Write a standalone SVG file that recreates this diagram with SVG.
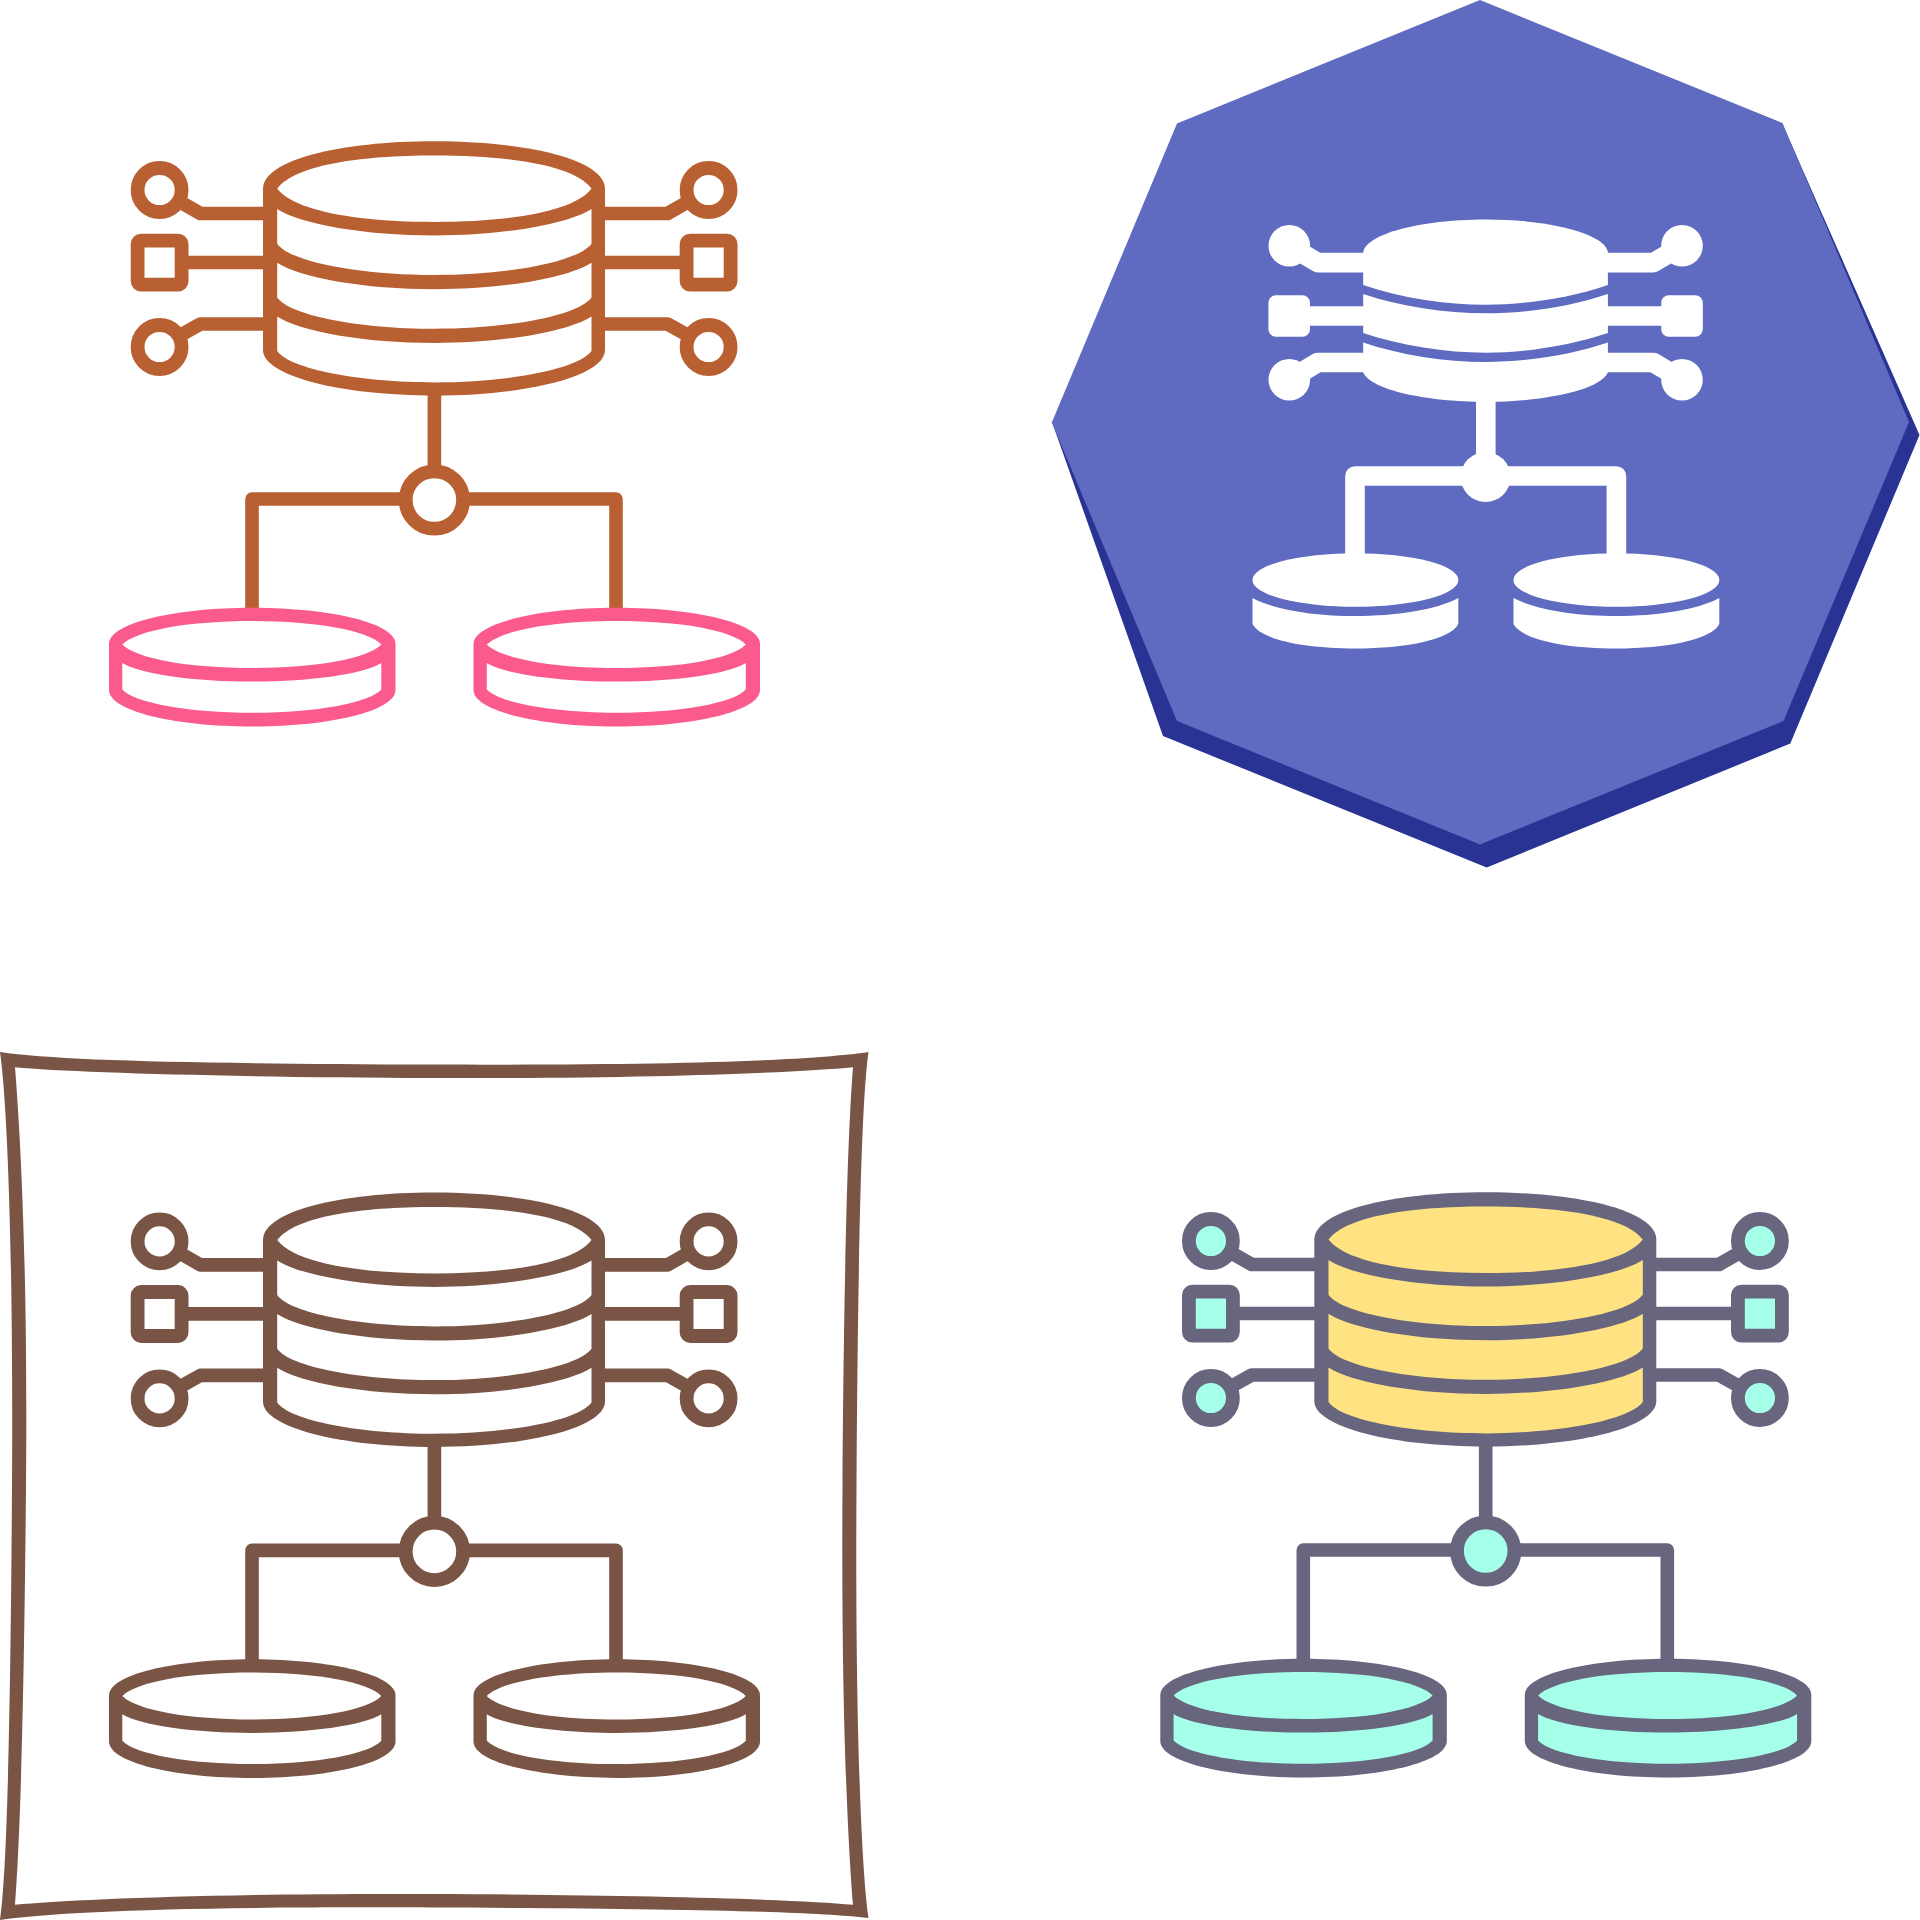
<svg xmlns="http://www.w3.org/2000/svg" xmlns:xlink="http://www.w3.org/1999/xlink" width="1920" height="1920" viewBox="0 0 1920 1920">
<style>
.wire{fill:none;stroke-width:13.6;stroke-linejoin:round}
.ring{stroke-width:13.8;stroke-linejoin:round}
.i1 .wire,.i1 .ring{stroke:#B96033}.i1 .ring,.i1 .panel,.i3 .ring,.i3 .panel{fill:#fff}
.i1 .ink{fill:#B96033}.i1 .pink{fill:#FB5A8D}
.i3 .wire,.i3 .ring{stroke:#7A5546}.i3 .ink{fill:#7A5546}
.i4 .wire,.i4 .ring{stroke:#68657E}.i4 .ink{fill:#68657E}
.i4 .ring,.i4 .panel{fill:#A6FFE9}.i4 .yel{fill:#FFE383}
.i2 .wire{stroke:#fff;stroke-width:19.6;fill:none;stroke-linejoin:round}
.i2 .solid{fill:#fff}
</style>
<defs>
<path id="dbSil" d="M263 188.6C263 160 340 141.2 434.4 141.2S605 160 605 188.6V350C605 376 528 395.5 434.4 395.5S263 376 263 350Z"/>
<g id="dbPanels">
<path d="M277.2 188.6C295 165 360 155.5 434.4 155.5S574 165 591.5 188.6C574 212 508 222 434.4 222S295 212 277.2 188.6Z"/>
<path id="band" d="M277.2 209C300 224 365 235.5 434.4 235.5S568 224 591.5 209V243.7C578 262 508 275 434.4 275S290 262 277.2 243.7Z"/>
<use href="#band" y="53.7"/>
<use href="#band" y="107.4"/>
</g>
<path id="smSil" d="M109 644C109 623 175 607.8 252.3 607.8S395.5 623 395.5 644V690C395.5 711 330 726.5 252.3 726.5S109 711 109 690Z"/>
<g id="smPanels">
<path d="M122.3 644.5C137 630 190 621 252.3 621S367 630 381.3 644.5C367 659 315 668 252.3 668S137 659 122.3 644.5Z"/>
<path d="M122.3 662.9C140 674 195 681.6 252.3 681.6S364 674 381.3 662.9V689.4C369 703 315 712.7 252.3 712.7S135 703 122.3 689.4Z"/>
</g>
<path id="wires" d="M270 213.5H200.4L159.4 190M270 262.5H159.4M270 324H200.4L159.4 347M598 213.5H667.6L708.6 190M598 262.5H708.6M598 324H667.6L708.6 347M434.4 388V499M252 610V499H616V610"/>
</defs>

<g id="icon1" class="i1">
<g id="i1-connectors"><use class="wire" href="#wires"/></g>
<g id="i1-db"><use class="ink" href="#dbSil"/><use class="panel" href="#dbPanels"/></g>
<g id="i1-n1"><circle class="ring" cx="159.6" cy="190" r="22"/></g>
<g id="i1-n2"><rect class="ring" x="137.6" y="240.6" width="44" height="44" rx="3.5"/></g>
<g id="i1-n3"><circle class="ring" cx="159.6" cy="347" r="22"/></g>
<g id="i1-n4"><circle class="ring" cx="708.6" cy="190" r="22"/></g>
<g id="i1-n5"><rect class="ring" x="686.6" y="240.6" width="44" height="44" rx="3.5"/></g>
<g id="i1-n6"><circle class="ring" cx="708.6" cy="347" r="22"/></g>
<g id="i1-hub"><circle class="ring" cx="434.4" cy="500" r="28.7"/></g>
<g id="i1-left"><use class="pink" href="#smSil"/><use class="panel" href="#smPanels"/></g>
<g id="i1-right" transform="translate(364.5 0)"><use class="pink" href="#smSil"/><use class="panel" href="#smPanels"/></g>
</g>

<g id="icon2" class="i2">
<polygon id="octagon-shadow" fill="#293393" points="1782,123 1919.5,435 1790.3,743.6 1486.7,867.5 1163,736 1052,422"/>
<polygon id="octagon" fill="#5E6BC0" points="1480,0 1782.4,123 1909,422 1783.5,721 1480,844.5 1177,721 1051.8,422.5 1177,123.5"/>
<g id="i2-connectors">
<path class="wire" d="M1370 262.6H1317.8L1289.2 245.8M1370 316H1289.2M1370 362.5H1317.8L1289.2 379.7M1600 262.6H1653.4L1682 245.8M1600 316H1682M1600 362.5H1653.4L1682 379.7M1485.8 395V477M1355 560V476H1616.4V560"/>
</g>
<g id="i2-db" class="solid">
<path d="M1363.2 252C1366 234 1420 219.4 1485.6 219.4S1605 234 1607.9 252V285C1570 298 1525 304.7 1485.6 304.7S1400 298 1363.2 285Z"/>
<path d="M1363.2 294C1400 306.5 1445 313.3 1485.6 313.3S1571 306.5 1607.9 294V333C1571 345.5 1525 352.7 1485.6 352.7S1400 345.5 1363.2 333Z"/>
<path d="M1363.2 342.5C1400 355 1445 362 1485.6 362S1571 355 1607.9 342.5V372.5C1600 390 1545 401.8 1485.6 401.8S1371 390 1363.2 372.5Z"/>
</g>
<g id="i2-n1" class="solid"><circle cx="1289.3" cy="245.8" r="20.8"/></g>
<g id="i2-n2" class="solid"><rect x="1268.4" y="295.2" width="41.6" height="41.6" rx="7.5"/></g>
<g id="i2-n3" class="solid"><circle cx="1289.3" cy="379.7" r="20.8"/></g>
<g id="i2-n4" class="solid"><circle cx="1682" cy="245.8" r="20.8"/></g>
<g id="i2-n5" class="solid"><rect x="1661.2" y="295.2" width="41.6" height="41.6" rx="7.5"/></g>
<g id="i2-n6" class="solid"><circle cx="1682" cy="379.7" r="20.8"/></g>
<g id="i2-hub" class="solid"><circle cx="1485.6" cy="477" r="25"/></g>
<g id="i2-left" class="solid">
<ellipse cx="1355.4" cy="580" rx="103" ry="26.8"/>
<path d="M1252.5 598C1275 610 1315 616 1355.4 616S1436 610 1458.3 598V624C1450 640 1405 648.5 1355.4 648.5S1261 640 1252.5 624Z"/>
</g>
<g id="i2-right" class="solid" transform="translate(261 0)">
<ellipse cx="1355.4" cy="580" rx="103" ry="26.8"/>
<path d="M1252.5 598C1275 610 1315 616 1355.4 616S1436 610 1458.3 598V624C1450 640 1405 648.5 1355.4 648.5S1261 640 1252.5 624Z"/>
</g>
</g>

<path id="frame" fill="#7A5546" fill-rule="evenodd" d="M0 1052C60 1061 200 1063.5 434 1064.5S808 1061 868.5 1052C861.5 1100 858 1250 856.5 1486S861.5 1870 868.5 1918C808 1911 668 1908.5 434 1907.5S60 1911 0 1920C7 1872 10.5 1722 12 1486S7 1100 0 1052ZM15 1067.3C70 1072.5 220 1077 434 1078S798 1072.5 853 1067.3C848 1130 844 1260 842.5 1486S848 1842 853 1904.7C798 1899.5 648 1895 434 1894S70 1899.5 15 1904.7C20 1842 24 1712 26 1486S20 1130 15 1067.3Z"/>

<g id="icon3" class="i3" transform="translate(0 1051.4)">
<g id="i3-connectors"><use class="wire" href="#wires"/></g>
<g id="i3-db"><use class="ink" href="#dbSil"/><use class="panel" href="#dbPanels"/></g>
<g id="i3-n1"><circle class="ring" cx="159.6" cy="190" r="22"/></g>
<g id="i3-n2"><rect class="ring" x="137.6" y="240.6" width="44" height="44" rx="3.5"/></g>
<g id="i3-n3"><circle class="ring" cx="159.6" cy="347" r="22"/></g>
<g id="i3-n4"><circle class="ring" cx="708.6" cy="190" r="22"/></g>
<g id="i3-n5"><rect class="ring" x="686.6" y="240.6" width="44" height="44" rx="3.5"/></g>
<g id="i3-n6"><circle class="ring" cx="708.6" cy="347" r="22"/></g>
<g id="i3-hub"><circle class="ring" cx="434.4" cy="500" r="28.7"/></g>
<g id="i3-left"><use class="ink" href="#smSil"/><use class="panel" href="#smPanels"/></g>
<g id="i3-right" transform="translate(364.5 0)"><use class="ink" href="#smSil"/><use class="panel" href="#smPanels"/></g>
</g>

<g id="icon4" class="i4" transform="translate(1051.3 1051)">
<g id="i4-connectors"><use class="wire" href="#wires"/></g>
<g id="i4-db"><use class="ink" href="#dbSil"/><use class="panel yel" href="#dbPanels"/></g>
<g id="i4-n1"><circle class="ring" cx="159.6" cy="190" r="22"/></g>
<g id="i4-n2"><rect class="ring" x="137.6" y="240.6" width="44" height="44" rx="3.5"/></g>
<g id="i4-n3"><circle class="ring" cx="159.6" cy="347" r="22"/></g>
<g id="i4-n4"><circle class="ring" cx="708.6" cy="190" r="22"/></g>
<g id="i4-n5"><rect class="ring" x="686.6" y="240.6" width="44" height="44" rx="3.5"/></g>
<g id="i4-n6"><circle class="ring" cx="708.6" cy="347" r="22"/></g>
<g id="i4-hub"><circle class="ring" cx="434.4" cy="500" r="28.7"/></g>
<g id="i4-left"><use class="ink" href="#smSil"/><use class="panel" href="#smPanels"/></g>
<g id="i4-right" transform="translate(364.5 0)"><use class="ink" href="#smSil"/><use class="panel" href="#smPanels"/></g>
</g>
</svg>
